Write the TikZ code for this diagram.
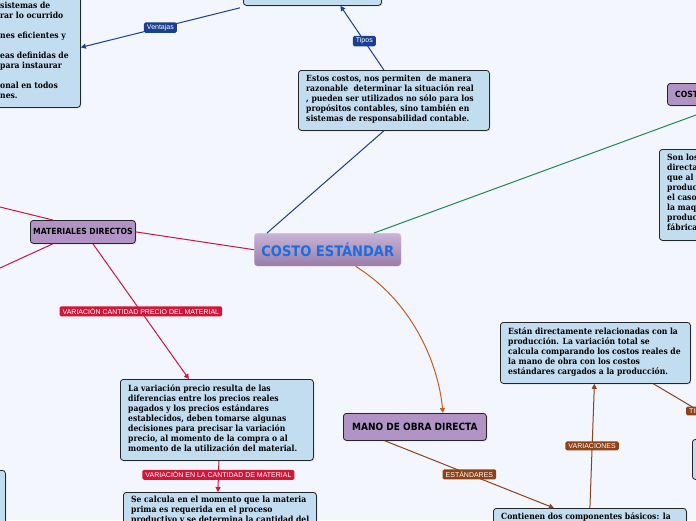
\documentclass[tikz,border=0pt]{standalone}
\usepackage{fontspec}
\setmainfont{DejaVu Serif Condensed}
\newfontfamily\lblfont{Liberation Sans}
\newfontfamily\headfont{DejaVu Sans Condensed}
\usetikzlibrary{arrows.meta,shadows}
\definecolor{bg}{HTML}{F3F6FE}
\definecolor{boxc}{HTML}{C3DDF0}
\definecolor{purp}{HTML}{B293C6}
\definecolor{navy}{HTML}{1B3F8F}
\definecolor{redc}{HTML}{D2163A}
\definecolor{grn}{HTML}{1E8B4E}
\definecolor{orng}{HTML}{C45E1E}
\definecolor{brwn}{HTML}{8E4219}
\definecolor{titleblue}{HTML}{1A6FE0}
\tikzset{
 txtbox/.style={draw=black!85,line width=0.8pt,fill=boxc,rounded corners=3pt,drop shadow={opacity=0.3,shadow xshift=1pt,shadow yshift=-1pt},inner sep=0pt,anchor=north west},
 btxt/.style={anchor=north west,align=left,inner sep=0pt,font=\bfseries\fontsize{8.5}{10}\selectfont},
 headbox/.style={draw=black!85,line width=0.8pt,fill=purp,rounded corners=3pt,drop shadow={opacity=0.3,shadow xshift=1pt,shadow yshift=-1pt},inner sep=0pt,anchor=north west},
 lbl/.style={rounded corners=1.5pt,text=white,font=\lblfont\fontsize{7}{8}\selectfont,inner xsep=3pt,inner ysep=2pt},
 arr/.style={-{Triangle[length=5pt,width=5pt]},line width=1pt},
 ln/.style={line width=1pt}
}
\begin{document}
\begin{tikzpicture}[x=1pt,y=-1pt]
\fill[bg] (0,0) rectangle (696,520);
\useasboundingbox (0,0) rectangle (696,520);
\begin{scope}
\clip (0,0) rectangle (696,520);
% boxes
\node[txtbox,minimum width=138pt,minimum height=30pt] (top) at (243,-25) {};
\node[txtbox,minimum width=190pt,minimum height=120pt] (lefttop) at (-110,-13) {};
\node[btxt] at (0,2) {sistemas de\\rar lo ocurrido\\[10pt]nes eficientes y\\[10pt]eas definidas de\\para instaurar\\[10pt]onal en todos\\nes.};
\node[txtbox,minimum width=191pt,minimum height=60pt] (desc) at (298,70) {};
\node[btxt] at (306,75) {Estos costos, nos permiten\ \ de manera\\razonable\ \ determinar la situación real\\, pueden ser utilizados no sólo para los\\propósitos contables, sino también en\\sistemas de responsabilidad contable.};
\node[headbox,minimum width=40pt,minimum height=22pt] (costo) at (667,83) {};
\node[anchor=west,inner sep=0pt,font=\headfont\bfseries\fontsize{8.5}{10}\selectfont] at (675,94) {COSTO};
\node[txtbox,minimum width=50pt,minimum height=91pt] (rbox) at (659,149) {};
\node[btxt] at (667,154) {Son los\\directa\\que al\\produc\\el caso\\la maq\\produc\\fábrica};
\node[headbox,minimum width=105pt,minimum height=23pt] (md) at (30,220) {};
\node[font=\headfont\bfseries\fontsize{8.5}{10}\selectfont,inner sep=0pt] at (md.center) {MATERIALES DIRECTOS};
\node[draw=white!70!purp,top color=purp!70!white,bottom color=purp!85!black,rounded corners=3pt,minimum width=147pt,minimum height=33pt,inner sep=0pt,anchor=north west] (center) at (254,233) {};
\node[text=titleblue,font=\headfont\bfseries\fontsize{14.5}{17}\selectfont,inner sep=0pt] at (center.center) {COSTO ESTÁNDAR};
\node[txtbox,minimum width=193pt,minimum height=81pt] (b1) at (120,379) {};
\node[btxt] at (128,384) {La variación precio resulta de las\\diferencias entre los precios reales\\pagados y los precios estándares\\establecidos, deben tomarse algunas\\decisiones para precisar la variación\\precio, al momento de la compra o al\\momento de la utilización del material.};
\node[txtbox,minimum width=193pt,minimum height=50pt] (b2) at (123,492) {};
\node[btxt] at (131,496) {Se calcula en el momento que la materia\\prima es requerida en el proceso\\productivo y se determina la cantidad del};
\node[txtbox,minimum width=50pt,minimum height=60pt] (lb) at (-45,470) {};
\node[headbox,minimum width=143pt,minimum height=27pt] (mod) at (343,413) {};
\node[font=\headfont\bfseries\fontsize{10}{12}\selectfont,inner sep=0pt] at (mod.center) {MANO DE OBRA DIRECTA};
\node[txtbox,minimum width=190pt,minimum height=61pt] (est) at (500,322) {};
\node[btxt] at (508,327) {Están directamente relacionadas con la\\producción. La variación total se\\calcula comparando los costos reales de\\la mano de obra con los costos\\estándares cargados a la producción.};
\node[txtbox,minimum width=193pt,minimum height=40pt] (cont) at (493,508) {};
\node[btxt] at (501,512) {Contienen dos componentes básicos: la};
\node[txtbox,minimum width=30pt,minimum height=40pt] (rb2) at (692,439) {};
% connectors
\coordinate (tl1) at (0,207); \coordinate (tl2) at (0,268);
\coordinate (ge) at (696,115); \coordinate (te) at (706,415);
\draw[arr,navy] ([xshift=-3pt,yshift=-2pt]top.south west) -- (lefttop.east) node[pos=0.5,lbl,fill=navy]{Ventajas};
\draw[arr,navy] ([xshift=-10pt]desc.north) -- ([xshift=28pt]top.south) node[pos=0.45,lbl,fill=navy]{Tipos};
\draw[ln,navy] ([xshift=-10pt]desc.south) -- ([xshift=13pt]center.north west);
\draw[ln,grn] ([xshift=120pt]center.north west) -- (ge);
\draw[ln,redc] (md.east) -- (center.west);
\draw[ln,redc] ([xshift=-30pt]md.north) -- (tl1);
\draw[ln,redc] ([xshift=-30pt]md.south) -- (tl2);
\draw[arr,redc] ([xshift=10pt]md.south) -- ([xshift=-28pt]b1.north) node[pos=0.5,lbl,fill=redc]{VARIACIÓN CANTIDAD PRECIO DEL MATERIAL};
\draw[arr,redc] ([xshift=2pt]b1.south) -- ([xshift=-2pt]b2.north) node[pos=0.45,lbl,fill=redc]{VARIACIÓN EN LA CANTIDAD DE MATERIAL};
\draw[arr,orng] ([xshift=28pt]center.south) .. controls (410,300) and (438,360) .. ([xshift=28pt]mod.north);
\draw[arr,brwn] ([xshift=-30pt]mod.south) -- ([xshift=-36pt]cont.north) node[pos=0.5,lbl,fill=brwn]{ESTÁNDARES};
\draw[arr,brwn] ([xshift=0pt]cont.north) -- ([xshift=-1pt]est.south) node[pos=0.5,lbl,fill=brwn]{VARIACIONES};
\draw[ln,brwn] ([xshift=58pt]est.south) -- (te);
\node[lbl,fill=brwn,anchor=west] (tipos2) at (686,411) {TIPOS};
\end{scope}
\end{tikzpicture}
\end{document}
